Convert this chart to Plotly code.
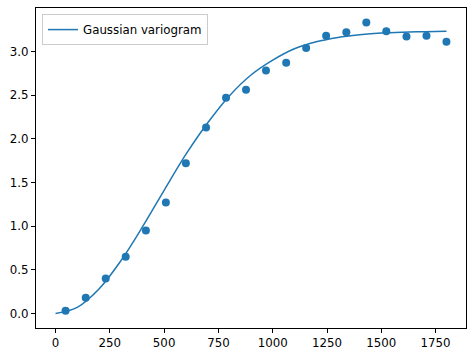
import plotly.graph_objects as go

lag_x = [46, 139, 231, 323, 416, 508, 600, 693, 785, 877,
         969, 1062, 1154, 1246, 1339, 1431, 1523, 1616, 1708, 1800]
semivar = [0.03, 0.18, 0.40, 0.65, 0.95, 1.27, 1.72, 2.13, 2.47, 2.56,
           2.78, 2.87, 3.04, 3.18, 3.22, 3.33, 3.23, 3.17, 3.18, 3.11]

# Fitted Gaussian model curve
model_x = [0, 100, 200, 300, 400, 500, 600, 700, 800, 900,
           1000, 1100, 1200, 1300, 1400, 1500, 1600, 1700, 1800]
model_y = [0.00, 0.07, 0.28, 0.60, 0.99, 1.41, 1.82, 2.18, 2.49, 2.73,
           2.90, 3.03, 3.11, 3.16, 3.19, 3.21, 3.22, 3.225, 3.23]

x_ticks = [0, 250, 500, 750, 1000, 1250, 1500, 1750]
y_ticks = [0.0, 0.5, 1.0, 1.5, 2.0, 2.5, 3.0]

blue = "#1f77b4"
fig = go.Figure()
fig.add_trace(go.Scatter(x=model_x, y=model_y, mode="lines", line=dict(color=blue, width=1.5, shape="spline"),
                         name="Gaussian variogram"))
fig.add_trace(go.Scatter(x=lag_x, y=semivar, mode="markers", marker=dict(color=blue, size=8),
                         showlegend=False))

axis_common = dict(showline=True, linecolor="black", linewidth=1, mirror=True, ticks="outside",
                   ticklen=4, tickwidth=1, tickcolor="black", showgrid=False, zeroline=False,
                   automargin=False,
                   tickfont=dict(family="DejaVu Sans", size=11.8, color="black"))
fig.update_xaxes(range=[-90, 1890], tickvals=x_ticks, **axis_common)
fig.update_yaxes(range=[-0.1665, 3.4965], tickvals=y_ticks, tickformat=".1f", **axis_common)

fig.update_layout(
    width=474, height=357,
    margin=dict(l=36, r=8, t=8, b=29),
    paper_bgcolor="white", plot_bgcolor="white",
    font=dict(family="DejaVu Sans", size=11.8, color="black"),
    legend=dict(x=0.014, y=0.981, xanchor="left", yanchor="top", bgcolor="rgba(255,255,255,0.8)",
                bordercolor="#cccccc", borderwidth=1, font=dict(size=11.8)),
)
fig.write_html("out.html", config={"displayModeBar": False},
               post_script="document.body.style.margin='0';document.body.style.overflow='hidden';")
